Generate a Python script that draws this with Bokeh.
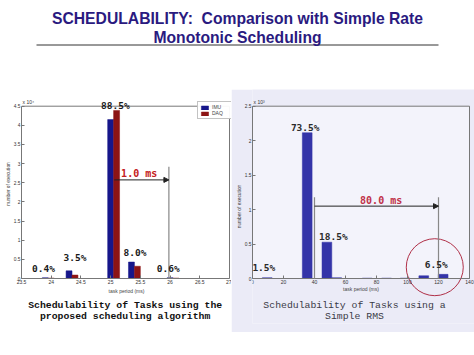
from bokeh.plotting import figure
from bokeh.models import Range1d, Label, Arrow, NormalHead, FixedTicker, Legend, LegendItem, ColumnDataSource
from bokeh.layouts import column, row
from bokeh.transform import dodge
from bokeh.embed import file_html
from bokeh.resources import INLINE

# ---------------- data ----------------
title_lines = ["SCHEDULABILITY:\u00a0 Comparison with Simple Rate", "Monotonic Scheduling"]

# left chart: proposed algorithm (counts in units of 10^4)
left_periods = [23.95, 24.35, 25.05, 25.4, 26.05]
imu_counts = [0.02, 0.20, 4.15, 0.43, 0.02]
daq_counts = [0.01, 0.09, 4.39, 0.32, 0.01]
left_pct_text = ["0.4%", "3.5%", "88.5%", "8.0%", "0.6%"]
left_pct_x = [23.87, 24.40, 25.08, 25.41, 25.97]
left_pct_y = [0.25, 0.54, 4.52, 0.67, 0.25]
left_xticks = [23.5, 24, 24.5, 25, 25.5, 26, 26.5, 27]
left_xtick_labels = ["23.5", "24", "24.5", "25", "25.5", "26", "26.5", "27"]
left_yticks = [0, 0.5, 1, 1.5, 2, 2.5, 3, 3.5, 4, 4.5]
left_ytick_labels = ["0", "0.5", "1", "1.5", "2", "2.5", "3", "3.5", "4", "4.5"]
left_gap = [25.06, 25.98]      # 1.0 ms gap arrow
left_gap_y = 2.575
left_gap_line_top = 2.92
left_gap_text = "1.0 ms"

# right chart: simple RMS (counts in units of 10^3)
rms_periods = [9.5, 35.3, 48.0, 54.3, 74.0, 86.5, 98.5, 110.5, 123.0]
rms_counts = [0.012, 2.115, 0.527, 0.012, 0.005, 0.005, 0.005, 0.04, 0.06]
right_pct_text = ["1.5%", "73.5%", "18.5%", "6.5%"]
right_pct_x = [7.3, 34.0, 52.2, 118.5]
right_pct_y = [0.155, 2.19, 0.61, 0.20]
right_xticks = [0, 20, 40, 60, 80, 100, 120, 140]
right_yticks = [0, 0.5, 1, 1.5, 2, 2.5]
right_ytick_labels = ["0", "0.5", "1", "1.5", "2", "2.5"]
right_gap = [40, 120]          # 80.0 ms gap
right_gap_y = 1.05
right_gap_line_top = 1.18
right_gap_text = "80.0 ms"
circle_center = (117.6, 0.164)

captions_left = ["Schedulability of Tasks using the", "proposed scheduling algorithm"]
captions_right = ["Schedulability of Tasks using a", "Simple RMS"]

# ---------------- styles / layout constants ----------------
TITLE_COLOR = "#2a1a80"
IMU_COLOR = "#16168a"
DAQ_COLOR = "#8c1414"
RMS_COLOR = "#3434a8"
LAV_BORDER = "#ebebf7"
LAV_FRAME = "#f3f3fb"
BOX_COLOR = "#777777"
AX_FONT = "Liberation Sans"
PCT_FONT = "DejaVu Sans Mono"
CAP_FONT = "Liberation Mono"
YPANEL = 21          # width reserved for the y axis panels


def blank(width, height, bg="white"):
    f = figure(width=width, height=height, output_backend="svg", toolbar_location=None,
               x_range=Range1d(0, width), y_range=Range1d(height, 0),
               min_border=0, background_fill_color=bg, border_fill_color=bg)
    f.axis.visible = False
    f.grid.visible = False
    f.outline_line_color = None
    return f


def style_axes(p):
    for ax in (p.xaxis[0], p.yaxis[0]):
        ax.major_tick_in = 3
        ax.major_tick_out = 0
        ax.minor_tick_line_color = None
        ax.axis_line_color = BOX_COLOR
        ax.major_tick_line_color = BOX_COLOR
        ax.major_label_text_font = AX_FONT
        ax.major_label_text_font_size = "5px"
        ax.major_label_text_color = "#333333"
        ax.major_label_standoff = 1
        ax.axis_label_text_font = AX_FONT
        ax.axis_label_text_font_size = "5px"
        ax.axis_label_text_font_style = "normal"
        ax.axis_label_text_color = "#444444"
        ax.axis_label_standoff = 1
    p.yaxis.major_label_text_font_size = "4.8px"
    p.yaxis.axis_label_standoff = 0
    p.yaxis.axis_label_text_font_size = "4.8px"
    p.grid.visible = False
    p.outline_line_color = None


# ---------------- title ----------------
tf = blank(474, 89)
for txt, yc in zip(title_lines, [17.7, 37.2]):
    tf.add_layout(Label(x=237, y=yc, text=txt, text_align="center", text_baseline="middle",
                        text_font=AX_FONT, text_font_style="bold", text_font_size="15.7px",
                        text_color=TITLE_COLOR))
tf.line(x=[36, 438], y=[44.5, 44.5], line_color="#333333", line_width=1)

# ---------------- left chart ----------------
# page geometry: figure top at 89, axes box 105.7..278 (y), frame left..229 (x)
L_H = 207
L_BOTTOM = 18
l_frame_h = L_H - L_BOTTOM
l_px_per_y = (278 - 105.7) / 4.5
l_xend = 27 + 3.5 * (231 - 229) / (229 - YPANEL)
lsrc = ColumnDataSource(dict(period=left_periods, imu=imu_counts, daq=daq_counts))
lp = figure(width=231, height=L_H, output_backend="svg", toolbar_location=None,
            x_range=Range1d(23.5, l_xend), y_range=Range1d(0, l_frame_h / l_px_per_y),
            min_border_left=YPANEL, min_border_right=0, min_border_top=0, min_border_bottom=L_BOTTOM,
            background_fill_color="white", border_fill_color="white")
r_imu = lp.vbar(x=dodge("period", -0.05, range=lp.x_range), top="imu", width=0.1, source=lsrc,
                fill_color=IMU_COLOR, line_color=IMU_COLOR, line_width=0.5)
r_daq = lp.vbar(x=dodge("period", 0.05, range=lp.x_range), top="daq", width=0.1, source=lsrc,
                fill_color=DAQ_COLOR, line_color=DAQ_COLOR, line_width=0.5)
style_axes(lp)
lp.xaxis.ticker = FixedTicker(ticks=left_xticks)
lp.xaxis.major_label_overrides = dict(zip(left_xticks, left_xtick_labels))
lp.xaxis.bounds = (left_xticks[0], left_xticks[-1])
lp.yaxis.ticker = FixedTicker(ticks=left_yticks)
lp.yaxis.major_label_overrides = dict(zip(left_yticks, left_ytick_labels))
lp.yaxis.bounds = (left_yticks[0], left_yticks[-1])
lp.xaxis.axis_label = "task period (ms)"
lp.yaxis.axis_label = "number of execution"
# closing box (top and right edges, as in MATLAB)
lp.segment(x0=[left_xticks[0], left_xticks[-1]], y0=[left_yticks[-1], 0],
           x1=[left_xticks[-1], left_xticks[-1]], y1=[left_yticks[-1], left_yticks[-1]],
           line_color=BOX_COLOR, line_width=1)

leg = Legend(items=[LegendItem(label="IMU", renderers=[r_imu]), LegendItem(label="DAQ", renderers=[r_daq])],
             location=(176, 159), margin=0, padding=2, spacing=0, glyph_height=5, glyph_width=9,
             label_height=5, label_standoff=3, label_text_font=AX_FONT, label_text_font_size="5px",
             border_line_color="#888888", border_line_width=0.5)
lp.add_layout(leg)

lp.add_layout(Label(x=23.5, y=4.5, x_offset=1, y_offset=1, text="x 10\u2074", text_font=AX_FONT,
                    text_font_size="5px", text_color="#333333", text_baseline="bottom"))
lp.add_layout(Arrow(end=None, x_start=left_gap[1], y_start=0, x_end=left_gap[1], y_end=left_gap_line_top,
                    line_color="#888888", line_width=1.2))
lp.add_layout(Arrow(end=NormalHead(size=5, fill_color="#222222", line_color="#222222"),
                    x_start=left_gap[0], y_start=left_gap_y, x_end=left_gap[1], y_end=left_gap_y,
                    line_color="#222222", line_width=1))
lp.add_layout(Label(x=(left_gap[0] + left_gap[1]) / 2 - 0.04, y=left_gap_y + 0.18, text=left_gap_text,
                    text_align="center", text_baseline="middle", text_font=PCT_FONT, text_font_style="bold",
                    text_font_size="10px", text_color="#c42020"))
for t, x, y in zip(left_pct_text, left_pct_x, left_pct_y):
    lp.add_layout(Label(x=x, y=y, text=t, text_align="center", text_baseline="middle", text_font=PCT_FONT,
                        text_font_style="bold", text_font_size="9.5px", text_color="#1a1a1a"))

# ---------------- right chart ----------------
# page geometry: figure 231..474 x 89..332; axes box x 247.7..469, y 105.7..278
R_W, R_H = 243, 243
R_BOTTOM = 9
r_frame_h = R_H - R_BOTTOM
r_px_per_y = (278 - 105.7) / 2.5
r_zero_fig = 278 - 89
r_frame_w = R_W - YPANEL
r_px_per_x = (469 - 231 - YPANEL) / 140.0
r_xend = r_frame_w / r_px_per_x
r_ystart = -(r_frame_h - r_zero_fig) / r_px_per_y
r_yend = r_zero_fig / r_px_per_y


def r_y(page_y):
    return (278 - page_y) / r_px_per_y


def r_x(page_x):
    return (page_x - 231 - YPANEL) / r_px_per_x


rsrc = ColumnDataSource(dict(period=rms_periods, count=rms_counts))
rp = figure(width=R_W, height=R_H, output_backend="svg", toolbar_location=None,
            x_range=Range1d(0, r_xend), y_range=Range1d(r_ystart, r_yend),
            min_border_left=YPANEL, min_border_right=0, min_border_top=0, min_border_bottom=R_BOTTOM,
            background_fill_color=LAV_BORDER, border_fill_color=LAV_BORDER)
# lighter axes area
rp.quad(left=[right_xticks[0]], right=[right_xticks[-1]], bottom=[0], top=[right_yticks[-1]],
        fill_color=LAV_FRAME, line_color=BOX_COLOR, line_width=1)
rp.vbar(x="period", top="count", width=6.3, source=rsrc, fill_color=RMS_COLOR, line_color=RMS_COLOR,
        line_width=0.5)
style_axes(rp)
rp.xaxis.fixed_location = 0
rp.xaxis.ticker = FixedTicker(ticks=right_xticks)
rp.xaxis.bounds = (right_xticks[0], right_xticks[-1])
rp.yaxis.ticker = FixedTicker(ticks=right_yticks)
rp.yaxis.major_label_overrides = dict(zip(right_yticks, right_ytick_labels))
rp.yaxis.bounds = (right_yticks[0], right_yticks[-1])
rp.yaxis.axis_label = "number of execution"
rp.add_layout(Label(x=70, y=r_y(288.5), text="task period (ms)", text_align="center", text_baseline="middle",
                    text_font=AX_FONT, text_font_size="5px", text_color="#444444"))
rp.add_layout(Label(x=0, y=2.5, x_offset=1, y_offset=1, text="x 10\u00b3", text_font=AX_FONT,
                    text_font_size="5px", text_color="#333333", text_baseline="bottom"))
for gx in right_gap:
    rp.add_layout(Arrow(end=None, x_start=gx, y_start=0, x_end=gx, y_end=right_gap_line_top,
                        line_color="#888888", line_width=1.2))
rp.add_layout(Arrow(end=NormalHead(size=5, fill_color="#222222", line_color="#222222"),
                    x_start=right_gap[0], y_start=right_gap_y, x_end=right_gap[1], y_end=right_gap_y,
                    line_color="#222222", line_width=1))
rp.add_layout(Label(x=(right_gap[0] + right_gap[1]) / 2 + 3, y=right_gap_y + 0.08, text=right_gap_text,
                    text_align="center", text_baseline="middle", text_font=PCT_FONT, text_font_style="bold",
                    text_font_size="10px", text_color="#c03048"))
for t, x, y in zip(right_pct_text, right_pct_x, right_pct_y):
    rp.add_layout(Label(x=x, y=y, text=t, text_align="center", text_baseline="middle", text_font=PCT_FONT,
                        text_font_style="bold", text_font_size="9.5px", text_color="#2a2a2a"))
rp.scatter(x=[circle_center[0]], y=[circle_center[1]], size=57, marker="circle", fill_color=None,
           line_color="#b03048", line_width=1)
for t, yc in zip(captions_right, [304.5, 316.0]):
    rp.add_layout(Label(x=r_x(354), y=r_y(yc), text=t, text_align="center", text_baseline="middle",
                        text_font=CAP_FONT, text_font_size="9.8px", text_color="#3a3a46"))

# ---------------- left captions ----------------
cl = blank(231, 355 - 89 - L_H)
for t, yc in zip(captions_left, [304.5, 316.0]):
    cl.add_layout(Label(x=114, y=yc - 89 - L_H, text=t, text_align="center", text_baseline="middle",
                        text_font=CAP_FONT, text_font_style="bold", text_font_size="9.8px",
                        text_color="#111111"))

layout = column(tf, row(column(lp, cl), rp))
open("out.html", "w").write(file_html(layout, INLINE))
